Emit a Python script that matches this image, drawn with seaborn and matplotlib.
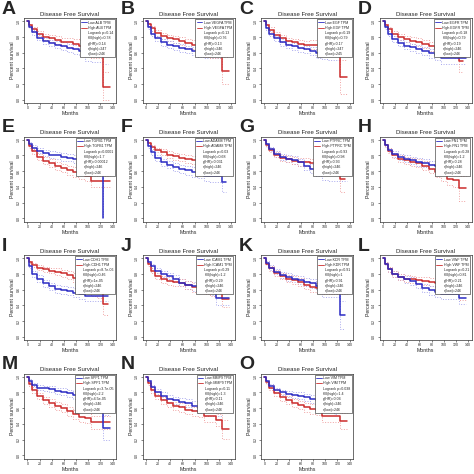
import numpy as np
import pandas as pd
import seaborn as sns
import matplotlib.pyplot as plt
from matplotlib.lines import Line2D

nan = np.nan

# shared time grid (months) for all survival curves
months = [0, 3, 8, 15, 25, 35, 45, 55, 65, 75, 85, 95, 105, 115, 120, 125, 128, 132, 136]

# survival: low (blue) / high (red) expression groups
low_A = [1.0, .93, .86, .79, .75, .72, .70, .68, .66, .64, .62, .57, .56, .56, .56, .56, .56, .56, nan]
high_A = [1.0, .95, .90, .84, .80, .78, .76, .74, .73, .71, .69, .67, .63, .63, .63, .16, .16, .16, .16]
low_B = [1.0, .92, .84, .78, .73, .70, .68, .66, .64, .62, .61, .60, .60, .60, .60, .60, nan, nan, nan]
high_B = [1.0, .96, .91, .85, .81, .79, .77, .75, .72, .70, .69, .62, .62, .62, .62, .37, .37, .37, .37]
low_C = [1.0, .91, .84, .78, .73, .70, .68, .66, .64, .62, .59, .58, .58, .58, .58, .58, nan, nan, nan]
high_C = [1.0, .95, .89, .83, .78, .75, .73, .71, .70, .70, .70, .70, .65, .65, .65, .29, .29, .29, .29]
low_D = [1.0, .92, .84, .77, .72, .69, .67, .65, .62, .59, .57, .53, .53, .53, .53, .53, .53, .53, .53]
high_D = [1.0, .95, .90, .84, .80, .77, .75, .73, .71, .68, .65, .63, .62, .62, .62, .49, .49, .49, nan]
low_E = [1.0, .95, .90, .86, .83, .81, .80, .78, .77, .75, .74, .72, .71, .71, .71, .0, nan, nan, nan]
high_E = [1.0, .92, .85, .78, .73, .70, .67, .64, .61, .59, .56, .54, .47, .47, .47, .47, .47, .47, .47]
low_F = [1.0, .92, .84, .77, .71, .68, .65, .63, .61, .59, .57, .54, .54, .54, .54, .46, .46, .46, nan]
high_F = [1.0, .96, .91, .87, .84, .81, .79, .77, .75, .74, .72, .71, .69, .67, .67, .67, nan, nan, nan]
low_G = [1.0, .94, .88, .82, .78, .76, .74, .71, .67, .63, .60, .56, .56, .56, .56, .56, .56, .56, .56]
high_G = [1.0, .93, .87, .81, .77, .75, .73, .72, .72, .70, .70, .67, .67, .66, .66, .50, .50, .50, nan]
low_H = [1.0, .93, .87, .82, .78, .76, .74, .72, .70, .68, .67, .66, .66, .66, .66, .66, nan, nan, nan]
high_H = [1.0, .93, .86, .80, .76, .74, .72, .70, .67, .63, .59, .55, .50, .49, .49, .38, .38, .38, .38]
low_I = [1.0, .90, .80, .74, .68, .64, .61, .59, .58, .56, .54, .52, .52, .52, .52, .52, .52, .52, nan]
high_I = [1.0, .95, .91, .88, .86, .84, .83, .81, .79, .75, .69, .65, .60, .58, .58, .42, .42, .42, nan]
low_J = [1.0, .95, .90, .84, .80, .77, .74, .69, .66, .64, .63, .62, .60, .50, .50, .50, .50, .50, .50]
high_J = [1.0, .92, .84, .77, .73, .71, .70, .69, .66, .63, .62, .61, .59, .58, .58, .48, .48, .48, .48]
low_K = [1.0, .94, .88, .83, .79, .76, .74, .72, .70, .68, .65, .58, .58, .58, .58, .28, .28, .28, nan]
high_K = [1.0, .93, .87, .81, .77, .74, .72, .70, .66, .63, .62, .61, .61, .61, .61, .61, .61, .61, .61]
low_L = [1.0, .93, .86, .80, .76, .73, .71, .67, .62, .59, .57, .55, .55, .55, .55, .50, .50, .50, .50]
high_L = [1.0, .93, .86, .80, .76, .74, .73, .72, .71, .70, .69, .69, .69, .63, .63, .57, .57, .57, .57]
low_M = [1.0, .95, .90, .86, .85, .84, .82, .81, .79, .77, .75, .71, .69, .69, .69, .35, .35, .35, .35]
high_M = [1.0, .91, .83, .75, .70, .66, .63, .60, .56, .52, .49, .48, .42, .42, .42, .42, .42, .42, .42]
low_N = [1.0, .94, .87, .81, .76, .72, .70, .68, .66, .63, .60, .56, .56, .56, .56, .56, nan, nan, nan]
high_N = [1.0, .92, .83, .76, .70, .66, .63, .61, .58, .56, .55, .50, .50, .45, .45, .33, .33, .33, .33]
low_O = [1.0, .94, .88, .83, .80, .78, .77, .76, .74, .72, .70, .66, .64, .60, .60, nan, nan, nan, nan]
high_O = [1.0, .93, .86, .79, .74, .70, .67, .64, .61, .59, .58, .50, .50, .50, .50, .44, .44, .44, .44]

# 95% CI half-widths
ci_low_A = [0, .02, .03, .035, .04, .04, .045, .05, .05, .055, .06, .07, .08, .08, .08, .10, .10, .10, nan]
ci_high_A = [0, .02, .03, .035, .04, .04, .045, .05, .055, .06, .07, .08, .10, .10, .10, .20, .20, .20, .20]
ci_low_B = [0, .02, .03, .035, .04, .045, .045, .05, .05, .055, .06, .065, .07, .07, .07, .08, nan, nan, nan]
ci_high_B = [0, .02, .03, .035, .04, .04, .045, .05, .055, .06, .065, .08, .09, .09, .09, .17, .17, .17, .17]
ci_low_C = [0, .02, .03, .035, .04, .045, .045, .05, .05, .055, .06, .065, .07, .07, .07, .08, nan, nan, nan]
ci_high_C = [0, .02, .03, .035, .04, .04, .045, .05, .05, .055, .06, .07, .08, .09, .09, .22, .22, .22, .22]
ci_low_D = [0, .02, .03, .035, .04, .045, .045, .05, .05, .055, .06, .07, .07, .07, .07, .08, .08, .08, .08]
ci_high_D = [0, .02, .03, .035, .04, .04, .045, .05, .05, .055, .06, .07, .08, .09, .09, .14, .14, .14, nan]
ci_low_E = [0, .02, .03, .03, .035, .04, .04, .045, .045, .05, .05, .055, .06, .06, .06, 0, nan, nan, nan]
ci_high_E = [0, .02, .035, .04, .045, .05, .05, .055, .06, .06, .065, .07, .07, .07, .07, .07, .07, .07, .07]
ci_low_F = [0, .02, .03, .035, .04, .045, .05, .05, .055, .06, .06, .07, .08, .08, .08, .12, .12, .12, nan]
ci_high_F = [0, .015, .025, .03, .035, .04, .045, .045, .05, .05, .055, .06, .06, .07, .07, .07, nan, nan, nan]
ci_low_G = [0, .02, .03, .035, .04, .045, .05, .05, .055, .06, .065, .07, .08, .08, .08, .08, .08, .08, .08]
ci_high_G = [0, .02, .03, .035, .04, .04, .045, .05, .05, .055, .06, .07, .07, .08, .08, .16, .16, .16, nan]
ci_low_H = [0, .02, .03, .035, .04, .04, .045, .05, .05, .055, .06, .065, .07, .07, .07, .07, nan, nan, nan]
ci_high_H = [0, .02, .03, .035, .04, .045, .05, .05, .055, .06, .065, .07, .08, .09, .09, .16, .16, .16, .16]
ci_low_I = [0, .025, .035, .04, .045, .045, .05, .05, .05, .055, .06, .06, .06, .06, .06, .06, .06, .06, nan]
ci_high_I = [0, .015, .025, .03, .03, .035, .04, .045, .05, .055, .06, .07, .08, .08, .08, .14, .14, .14, nan]
ci_low_J = [0, .015, .025, .03, .035, .04, .045, .05, .05, .055, .06, .065, .07, .09, .09, .09, .09, .09, .09]
ci_high_J = [0, .02, .035, .04, .045, .045, .05, .05, .055, .06, .06, .065, .07, .07, .07, .10, .10, .10, .10]
ci_low_K = [0, .02, .03, .035, .04, .045, .045, .05, .05, .055, .06, .07, .07, .07, .07, .18, .18, .18, nan]
ci_high_K = [0, .02, .03, .035, .04, .045, .05, .05, .055, .06, .06, .065, .065, .065, .065, .065, .065, .065, .065]
ci_low_L = [0, .02, .03, .035, .04, .045, .05, .05, .055, .06, .06, .065, .065, .065, .065, .08, .08, .08, .08]
ci_high_L = [0, .02, .03, .035, .04, .04, .045, .045, .05, .05, .055, .06, .06, .08, .08, .10, .10, .10, .10]
ci_low_M = [0, .015, .025, .03, .03, .035, .04, .04, .045, .05, .05, .06, .06, .06, .06, .16, .16, .16, .16]
ci_high_M = [0, .025, .035, .04, .045, .05, .05, .055, .06, .06, .065, .07, .08, .08, .08, .08, .08, .08, .08]
ci_low_N = [0, .02, .03, .035, .04, .045, .045, .05, .05, .055, .06, .065, .065, .065, .065, .065, nan, nan, nan]
ci_high_N = [0, .025, .035, .04, .045, .05, .05, .055, .06, .06, .065, .07, .07, .08, .08, .12, .12, .12, .12]
ci_low_O = [0, .02, .03, .03, .035, .04, .04, .045, .045, .05, .05, .06, .06, .08, .08, nan, nan, nan, nan]
ci_high_O = [0, .02, .035, .04, .045, .05, .05, .055, .06, .06, .065, .07, .07, .07, .07, .10, .10, .10, .10]

letters = ['A', 'B', 'C', 'D', 'E', 'F', 'G', 'H', 'I', 'J', 'K', 'L', 'M', 'N', 'O']
genes = ['ALB', 'VEGFA', 'EGF', 'EGFR', 'TGFB1', 'ADAM8', 'PTPRC', 'FN1',
         'CDH1', 'ICAM1', 'KDR', 'VWF', 'SPP1', 'MMP9', 'VIM']
logrank_p = ['0.14', '0.13', '0.19', '0.18', '0.0001', '0.03', '0.93', '0.28',
             '8.7e-06', '0.29', '0.91', '0.21', '3.7e-05', '0.11', '0.038']
hr_high = ['0.78', '0.76', '0.79', '0.79', '1.7', '0.68', '0.98', '1.2',
           '0.46', '1.2', '1', '0.81', '2.2', '1.3', '1.4']
p_hr = ['0.14', '0.13', '0.17', '0.19', '0.00012', '0.031', '0.93', '0.28',
        '1e-05', '0.29', '0.91', '0.21', '4.5e-05', '0.11', '0.04']
n_high = [247, 246, 247, 246, 246, 246, 246, 246, 246, 246, 246, 246, 246, 246, 246]
n_low = [246, 246, 245, 246, 246, 246, 246, 246, 246, 246, 246, 246, 246, 246, 246]

low_curves = [low_A, low_B, low_C, low_D, low_E, low_F, low_G, low_H,
              low_I, low_J, low_K, low_L, low_M, low_N, low_O]
high_curves = [high_A, high_B, high_C, high_D, high_E, high_F, high_G, high_H,
               high_I, high_J, high_K, high_L, high_M, high_N, high_O]
low_ci = [ci_low_A, ci_low_B, ci_low_C, ci_low_D, ci_low_E, ci_low_F, ci_low_G, ci_low_H,
          ci_low_I, ci_low_J, ci_low_K, ci_low_L, ci_low_M, ci_low_N, ci_low_O]
high_ci = [ci_high_A, ci_high_B, ci_high_C, ci_high_D, ci_high_E, ci_high_F, ci_high_G, ci_high_H,
           ci_high_I, ci_high_J, ci_high_K, ci_high_L, ci_high_M, ci_high_N, ci_high_O]

sns.set_theme(style='ticks')
plt.rcParams['font.family'] = ['Liberation Sans', 'DejaVu Sans']

blue, red = '#2b2bc4', '#cc2b2b'
pal = {'Low': blue, 'High': red}
ci_pal = {'Low': '#a9a9ee', 'High': '#f0a3a3'}

W = H = 474
cell = 118.5
fig = plt.figure(figsize=(4.74, 4.74), dpi=100)

for i, letter in enumerate(letters):
    r, c = divmod(i, 4)
    x0, y0 = c * cell, r * cell
    ax = fig.add_axes([(x0 + 24) / W, 1 - (y0 + 103) / H, 92 / W, 85 / H])

    n = len(months)
    df = pd.DataFrame({
        'Months': months * 2,
        'surv': low_curves[i] + high_curves[i],
        'ci': low_ci[i] + high_ci[i],
        'group': ['Low'] * n + ['High'] * n,
    }).dropna()
    df['lower'] = (df['surv'] - df['ci']).clip(lower=0)
    df['upper'] = (df['surv'] + df['ci']).clip(upper=1)

    # dotted confidence bands
    for col in ['lower', 'upper']:
        sns.lineplot(data=df, x='Months', y=col, hue='group', palette=ci_pal,
                     estimator=None, sort=False, drawstyle='steps-post',
                     linestyle=':', lw=0.7, legend=False, ax=ax)
    # survival curves
    sns.lineplot(data=df, x='Months', y='surv', hue='group', palette=pal,
                 hue_order=['High', 'Low'], estimator=None, sort=False,
                 drawstyle='steps-post', lw=1.1, legend=False, ax=ax)

    ax.set_xlim(-5.6, 145.6)
    ax.set_ylim(-0.04, 1.04)
    ax.set_xticks(range(0, 141, 20))
    ax.set_yticks([0, 0.2, 0.4, 0.6, 0.8, 1.0])
    ax.set_yticklabels(['0.0', '0.2', '0.4', '0.6', '0.8', '1.0'], rotation=90, va='center')
    ax.tick_params(labelsize=2.6, length=1.5, width=0.4, pad=1)
    for s in ax.spines.values():
        s.set_linewidth(0.5)
        s.set_color('#333333')
    ax.set_xlabel('Months', fontsize=3.8, labelpad=0.5)
    ax.set_ylabel('Percent survival', fontsize=3.8, labelpad=1)
    ax.set_title('Disease Free Survival', fontsize=4.3, pad=1.5)

    g = genes[i]
    handles = [Line2D([], [], color=blue, lw=0.6), Line2D([], [], color=red, lw=0.6)]
    handles += [Line2D([], [], color='none')] * 5
    labels = [f'Low {g} TPM', f'High {g} TPM', f'Logrank p={logrank_p[i]}',
              f'HR(high)={hr_high[i]}', f'p(HR)={p_hr[i]}',
              f'n(high)={n_high[i]}', f'n(low)={n_low[i]}']
    leg = ax.legend(handles, labels, loc='upper right', fontsize=2.6,
                    handlelength=1.6, handletextpad=0.4, borderpad=0.3,
                    labelspacing=0.35, fancybox=False, framealpha=1,
                    borderaxespad=0.4)
    leg.get_frame().set_edgecolor('#222222')
    leg.get_frame().set_linewidth(0.4)

    fig.text((x0 + 2) / W, 1 - (y0 + 0.5) / H, letter, fontsize=14,
             fontweight='bold', va='top', ha='left')

fig.savefig('out.png', dpi=100)
